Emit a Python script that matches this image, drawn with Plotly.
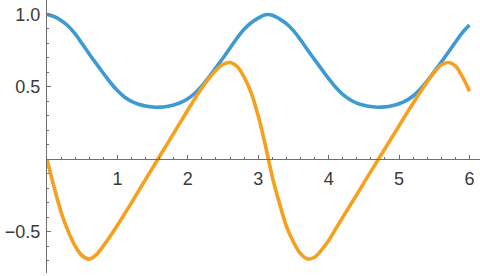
import plotly.graph_objects as go

# sample positions (x)
x_vals = [round(i * 0.1, 1) for i in range(61)]

blue_vals = [1.0, 0.985, 0.958, 0.92, 0.865, 0.797, 0.727, 0.66, 0.594, 0.53,
             0.474, 0.43, 0.40, 0.38, 0.368, 0.361, 0.36, 0.365, 0.375, 0.392,
             0.418, 0.456, 0.507, 0.567, 0.633, 0.699, 0.768, 0.837, 0.897, 0.942,
             0.974, 0.997, 0.994, 0.969, 0.936, 0.888, 0.825, 0.756, 0.688, 0.622,
             0.557, 0.497, 0.448, 0.413, 0.388, 0.373, 0.364, 0.359, 0.362, 0.37,
             0.383, 0.405, 0.437, 0.483, 0.541, 0.605, 0.671, 0.739, 0.808, 0.874,
             0.926]

orange_vals = [0.0, -0.19, -0.363, -0.495, -0.598, -0.665, -0.688, -0.657, -0.597, -0.529,
               -0.455, -0.378, -0.299, -0.219, -0.139, -0.059, 0.021, 0.10, 0.18, 0.26,
               0.34, 0.418, 0.492, 0.558, 0.615, 0.655, 0.668, 0.64, 0.567, 0.459,
               0.30, 0.10, -0.12, -0.30, -0.46, -0.57, -0.65, -0.687, -0.675, -0.625,
               -0.56, -0.48, -0.40, -0.322, -0.243, -0.163, -0.083, -0.005, 0.073, 0.152,
               0.231, 0.31, 0.387, 0.462, 0.535, 0.60, 0.65, 0.668, 0.645, 0.57,
               0.47]

x_ticks = [1, 2, 3, 4, 5, 6]
x_tick_text = ["1", "2", "3", "4", "5", "6"]
y_ticks = [-0.5, 0.5, 1.0]
y_tick_text = ["\u22120.5", "0.5", "1.0"]

BLUE = "#3e9ad2"
ORANGE = "#f5a11f"
AXIS = "#6e6e6e"
TEXT = "#3a3a3a"

X_RANGE = [0, 6.15]
Y_RANGE = [-0.784, 1.099]

fig = go.Figure()
fig.add_trace(go.Scatter(x=x_vals, y=blue_vals, mode="lines",
                         line=dict(color=BLUE, width=3.6, shape="spline", smoothing=1.0),
                         hoverinfo="skip"))
fig.add_trace(go.Scatter(x=x_vals, y=orange_vals, mode="lines",
                         line=dict(color=ORANGE, width=3.6, shape="spline", smoothing=1.0),
                         hoverinfo="skip"))

x_axis_pos = (0 - Y_RANGE[0]) / (Y_RANGE[1] - Y_RANGE[0])

fig.update_layout(
    width=480, height=276,
    margin=dict(l=47, r=0, t=0, b=3),
    paper_bgcolor="white", plot_bgcolor="white",
    showlegend=False,
    font=dict(family="Liberation Sans", size=18, color=TEXT),
    xaxis=dict(range=X_RANGE, showgrid=False, zeroline=False,
               showline=True, linecolor=AXIS, linewidth=1,
               anchor="free", position=x_axis_pos,
               tickmode="array", tickvals=x_ticks, ticktext=x_tick_text,
               ticks="inside", ticklen=4, tickwidth=1, tickcolor=AXIS,
               ticklabelstandoff=3,
               minor=dict(ticks="inside", ticklen=2, tickwidth=1, tickcolor=AXIS,
                          tickmode="linear", tick0=0, dtick=0.2)),
    yaxis=dict(range=Y_RANGE, showgrid=False, zeroline=False,
               showline=True, linecolor=AXIS, linewidth=1,
               tickmode="array", tickvals=y_ticks, ticktext=y_tick_text,
               ticks="inside", ticklen=4, tickwidth=1, tickcolor=AXIS,
               ticklabelstandoff=2,
               minor=dict(ticks="inside", ticklen=2, tickwidth=1, tickcolor=AXIS,
                          tickmode="linear", tick0=0, dtick=0.1)),
)

fig.write_html("out.html")
